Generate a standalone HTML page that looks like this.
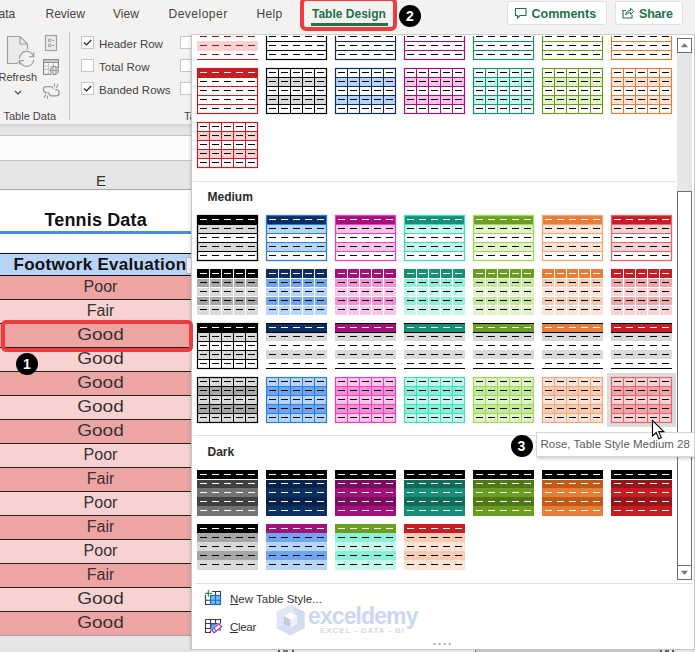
<!DOCTYPE html>
<html><head><meta charset="utf-8"><title>Table Design</title>
<style>
html,body{margin:0;padding:0}
body{width:695px;height:652px;position:relative;overflow:hidden;background:#f3f2f1;font-family:"Liberation Sans",sans-serif;color:#444}
.a{position:absolute}
.t{position:absolute;white-space:nowrap;line-height:1}
.tab{position:absolute;white-space:nowrap;line-height:1;font-size:12px;color:#444;top:7.5px}
.cb{position:absolute;width:11px;height:11px;background:#fff;border:1px solid #c8c6c4}
.rl{position:absolute;white-space:nowrap;line-height:1;font-size:11.5px;color:#444;left:99px}
.row{position:absolute;left:0;width:195px;height:23px;border-bottom:1px solid #222}
.ct{position:absolute;white-space:nowrap;line-height:1;font-size:16px;color:#333;width:201px;left:0;text-align:center}
.circ{position:absolute;width:22px;height:22px;border-radius:50%;background:#000;color:#fff;font-weight:bold;font-size:14px;text-align:center;line-height:22px}
.btn{position:absolute;top:1px;height:22px;background:#fff;border:1px solid #e1dfdd;border-radius:3px}
</style></head><body>

<!-- ===== ribbon tabs ===== -->
<div class="tab" style="left:-1.5px">ata</div>
<div class="tab" style="left:45.5px">Review</div>
<div class="tab" style="left:113px">View</div>
<div class="tab" style="left:168.5px;letter-spacing:.5px">Developer</div>
<div class="tab" style="left:256.5px;letter-spacing:.35px">Help</div>
<div class="tab" style="left:312px;color:#217346;font-weight:bold">Table Design</div>
<div class="a" style="left:311px;top:23px;width:77px;height:3px;background:#217346"></div>
<div class="a" style="left:300px;top:-3px;width:89px;height:26px;border:4px solid #ee3b3e;border-radius:6px"></div>
<div class="circ" style="left:399px;top:5px">2</div>

<div class="btn" style="left:507px;width:98px"></div>
<svg class="a" style="left:514px;top:6px" width="14" height="14" viewBox="0 0 14 14"><path d="M1.5 2.5h10.5v7h-6l-2.6 2.6v-2.6h-1.9z" fill="none" stroke="#217346" stroke-width="1.1" stroke-linejoin="round"/></svg>
<div class="t" style="left:531.5px;top:7.5px;font-size:12.5px;font-weight:bold;color:#217346">Comments</div>
<div class="btn" style="left:615px;width:66px"></div>
<svg class="a" style="left:621px;top:5px" width="14" height="15" viewBox="0 0 14 15"><path d="M5 5.5H2v7.5h9v-3.5" fill="none" stroke="#217346" stroke-width="1.1"/><path d="M4.5 10c.4-3 2.300-4.600 5-4.600V3.200L12.800 6.300 9.500 9.400V7.400C7.500 7.400 5.800 8 4.500 10z" fill="none" stroke="#217346" stroke-width="1" stroke-linejoin="round"/></svg>
<div class="t" style="left:639px;top:7.5px;font-size:12.5px;font-weight:bold;color:#217346;letter-spacing:-.2px">Share</div>

<!-- ===== ribbon body ===== -->
<svg class="a" style="left:0;top:30px" width="70" height="75" viewBox="0 30 70 75" fill="none" stroke="#a3a1a0" stroke-width="1.2">
 <path d="M18 63.500H7.500V36.500H20L27.500 44V49.500" fill="#ebebeb"/><path d="M20 36.500V44H27.500"/>
 <path d="M19.400 58.500A7.200 7.200 0 0 1 33.500 56.500M33.800 52V56.700H29.200M33.800 59.500A7.200 7.200 0 0 1 19.600 60.800M19.300 64.500V60.700H24"/>
 <rect x="45.500" y="35.500" width="11" height="15" fill="#ebebeb"/><path d="M48.500 39.200h2.300v2.300h-2.300zM48.500 44.200h2.300v2.300h-2.300zM52 40.400h2.400M52 45.400h2.400" stroke-width="1"/>
 <rect x="43.600" y="59.600" width="14.800" height="14.800" fill="#fafafa" stroke="none"/><path d="M43.600 60.200h14.800v2.200h-14.800z" fill="#cfcfcf" stroke="none"/>
 <path d="M48.500 62.500v11.500M53.500 62.500v4M43.600 66h10M43.600 69.500h6.500" stroke="#c6c6c6" stroke-width="1"/>
 <path d="M58.400 68V59.600H43.600V74.400H51M43.600 62.500H58.400" stroke="#8e8e8e"/>
 <circle cx="54.400" cy="70.500" r="4.100" fill="#e4e4e4" stroke="#9a9a9a"/><path d="M50.300 70.500h8.200" stroke="#9a9a9a" stroke-width="1"/><ellipse cx="54.400" cy="70.500" rx="1.800" ry="4.100" stroke="#9a9a9a" stroke-width=".9"/>
 <path d="M53.200 88.600C53 87.200 52.200 86.600 50.800 86.600H46.300A3 3 0 0 0 46.300 92.600H47.600M55.300 89.600H56A3.100 3.100 0 0 1 56 95.800H51.600A3.100 3.100 0 0 1 48.700 92.400" stroke="#9a9a9a" stroke-width="1.300"/>
 <path d="M54.300 83.100L54.600 87M58.100 84.100L56.400 87.700M45.700 94.300L44.100 97.700M47.400 95.400V98.900" stroke="#9a9a9a" stroke-width="1.100"/>
</svg>
<div class="t" style="left:-1.5px;top:72px;font-size:11px;color:#444">Refresh</div>
<svg class="a" style="left:14px;top:90px" width="8" height="5" viewBox="0 0 8 5"><path d="M1 1l3 3 3-3" fill="none" stroke="#444" stroke-width="1.1"/></svg>
<div class="t" style="left:3.5px;top:110.5px;font-size:11px;color:#444">Table Data</div>
<div class="a" style="left:69px;top:32px;width:1px;height:88px;background:#c8c6c4"></div>

<div class="cb" style="left:81px;top:36px"></div>
<div class="cb" style="left:81px;top:59px"></div>
<div class="cb" style="left:81px;top:82px"></div>
<svg class="a" style="left:81px;top:36px" width="13" height="13" viewBox="0 0 13 13"><path d="M3 6.500l2.500 2.500 4.700-5" fill="none" stroke="#222" stroke-width="1.2"/></svg>
<svg class="a" style="left:81px;top:82px" width="13" height="13" viewBox="0 0 13 13"><path d="M3 6.500l2.500 2.500 4.700-5" fill="none" stroke="#222" stroke-width="1.2"/></svg>
<div class="rl" style="top:38.5px">Header Row</div>
<div class="rl" style="top:61.5px">Total Row</div>
<div class="rl" style="top:84.5px">Banded Rows</div>
<div class="cb" style="left:180px;top:36px"></div>
<div class="cb" style="left:180px;top:59px"></div>
<div class="cb" style="left:180px;top:82px"></div>
<div class="t" style="left:184px;top:110.5px;font-size:11px;color:#444">Ta</div>

<!-- ===== below ribbon ===== -->
<div class="a" style="left:0;top:124px;width:695px;height:5px;background:linear-gradient(#d4d2d0,#e6e6e6)"></div>
<div class="a" style="left:0;top:129px;width:695px;height:523px;background:#e6e6e6"></div>
<div class="a" style="left:0;top:135px;width:695px;height:24px;background:#fbfbfb;border-top:1px solid #c6c6c6;border-bottom:1px solid #c6c6c6"></div>
<div class="t" style="left:96px;top:172.5px;font-size:15px;color:#333">E</div>
<div class="a" style="left:0;top:189px;width:695px;height:1px;background:#a6a6a6"></div>

<!-- cells -->
<div class="a" style="left:0;top:190px;width:195px;height:85px;background:#fff"></div>
<div class="t" style="left:44.500px;top:210.500px;font-size:18px;font-weight:bold;color:#111;letter-spacing:.15px">Tennis Data</div>
<div class="a" style="left:0;top:231px;width:195px;height:3px;background:#4a8ce2"></div>
<div class="a" style="left:0;top:253px;width:195px;height:21px;background:#b8d5f8;border-top:1px solid #111;border-bottom:1px solid #111"></div>
<div class="t" style="left:13.500px;top:256px;font-size:17px;font-weight:bold;color:#111;letter-spacing:.3px">Footwork Evaluation</div>
<div class="a" style="left:186px;top:257px;width:8px;height:15px;background:#f4f4f4;border:1px solid #b5b5b5"></div>
<div class="row" style="top:276px;background:#efa4a4"></div><div class="ct" style="top:279px;">Poor</div><div class="row" style="top:300px;background:#f8d1d1"></div><div class="ct" style="top:303px;">Fair</div><div class="row" style="top:324px;background:#efa4a4"></div><div class="ct" style="top:327px;transform:scaleX(1.19);transform-origin:100.75px 0;">Good</div><div class="row" style="top:348px;background:#f8d1d1"></div><div class="ct" style="top:351px;transform:scaleX(1.19);transform-origin:100.75px 0;">Good</div><div class="row" style="top:372px;background:#efa4a4"></div><div class="ct" style="top:375px;transform:scaleX(1.19);transform-origin:100.75px 0;">Good</div><div class="row" style="top:396px;background:#f8d1d1"></div><div class="ct" style="top:399px;transform:scaleX(1.19);transform-origin:100.75px 0;">Good</div><div class="row" style="top:420px;background:#efa4a4"></div><div class="ct" style="top:423px;transform:scaleX(1.19);transform-origin:100.75px 0;">Good</div><div class="row" style="top:444px;background:#f8d1d1"></div><div class="ct" style="top:447px;">Poor</div><div class="row" style="top:468px;background:#efa4a4"></div><div class="ct" style="top:471px;">Fair</div><div class="row" style="top:492px;background:#f8d1d1"></div><div class="ct" style="top:495px;">Poor</div><div class="row" style="top:516px;background:#efa4a4"></div><div class="ct" style="top:519px;">Fair</div><div class="row" style="top:540px;background:#f8d1d1"></div><div class="ct" style="top:543px;">Poor</div><div class="row" style="top:564px;background:#efa4a4"></div><div class="ct" style="top:567px;">Fair</div><div class="row" style="top:588px;background:#f8d1d1"></div><div class="ct" style="top:591px;transform:scaleX(1.19);transform-origin:100.75px 0;">Good</div><div class="row" style="top:612px;background:#efa4a4;border-bottom-color:#a0a0a0"></div><div class="ct" style="top:615px;transform:scaleX(1.19);transform-origin:100.75px 0;">Good</div>

<div class="circ" style="left:16px;top:353px">1</div>

<div class="a" style="left:0;top:649px;width:695px;height:3px;background:#e4e4e4"></div>
<div class="a" style="left:475px;top:649px;width:185px;height:3px;background:#c4c4c4;border-left:1px solid #666"></div>
<div class="a" style="left:278px;top:650px;width:1.500px;height:2px;background:#555"></div><div class="a" style="left:283px;top:650px;width:5px;height:2px;background:#777"></div><div class="a" style="left:292px;top:650px;width:1.500px;height:2px;background:#555"></div>
<div class="a" style="left:660px;top:650px;width:1.500px;height:2px;background:#555"></div><div class="a" style="left:665px;top:650px;width:4px;height:2px;background:#666"></div><div class="a" style="left:672px;top:650px;width:1.500px;height:2px;background:#555"></div>

<!-- ===== dropdown panel ===== -->
<div class="a" style="left:188px;top:35px;width:507px;height:615px;background:linear-gradient(90deg,rgba(0,0,0,0),rgba(0,0,0,.10) 3px,rgba(0,0,0,0) 3px)"></div>
<div class="a" style="left:191px;top:34px;width:502px;height:614px;background:#fff;border:1px solid #c6c6c6;border-top-color:#d0d0d0"></div>
<svg class="a" style="left:191px;top:36px" width="503" height="612" viewBox="0 2 503 612"><g transform="translate(6 -20)"><g shape-rendering="auto"><rect x="0" y="9" width="61" height="10" fill="#f8d2d3"/><rect x="0" y="27" width="61" height="10" fill="#f8d2d3"/><path d="M3 4.5H58" stroke="#8f181c" stroke-width="1.15" stroke-dasharray="7 5"/><path d="M3 13.5H58" stroke="#8f181c" stroke-width="1.15" stroke-dasharray="7 5"/><path d="M3 22.5H58" stroke="#8f181c" stroke-width="1.15" stroke-dasharray="7 5"/><path d="M3 31.5H58" stroke="#8f181c" stroke-width="1.15" stroke-dasharray="7 5"/><path d="M3 40.5H58" stroke="#8f181c" stroke-width="1.15" stroke-dasharray="7 5"/><path d="M0 0.5H61" stroke="#c61c22" stroke-width="1"/><path d="M0 9.5H61" stroke="#c61c22" stroke-width="1"/><path d="M0 45.5H61" stroke="#c61c22" stroke-width="1.2"/></g></g><g transform="translate(75 -20)"><g shape-rendering="auto"><rect x="0" y="0" width="61" height="46" fill="#fff"/><rect x="0" y="0" width="61" height="9" fill="#000000"/><path d="M0 9.5H61" stroke="#000000" stroke-width="1"/><path d="M0 18.5H61" stroke="#000000" stroke-width="1"/><path d="M0 27.5H61" stroke="#000000" stroke-width="1"/><path d="M0 36.5H61" stroke="#000000" stroke-width="1"/><rect x="0.5" y="0.5" width="60" height="45" fill="none" stroke="#000000" stroke-width="1.2"/><path d="M3 4.5H58" stroke="#fff" stroke-width="1.15" stroke-dasharray="7 5"/><path d="M3 13.5H58" stroke="#000" stroke-width="1.15" stroke-dasharray="7 5"/><path d="M3 22.5H58" stroke="#000" stroke-width="1.15" stroke-dasharray="7 5"/><path d="M3 31.5H58" stroke="#000" stroke-width="1.15" stroke-dasharray="7 5"/><path d="M3 40.5H58" stroke="#000" stroke-width="1.15" stroke-dasharray="7 5"/></g></g><g transform="translate(144 -20)"><g shape-rendering="auto"><rect x="0" y="0" width="61" height="46" fill="#fff"/><rect x="0" y="0" width="61" height="9" fill="#0b2d62"/><path d="M0 9.5H61" stroke="#0b2d62" stroke-width="1"/><path d="M0 18.5H61" stroke="#0b2d62" stroke-width="1"/><path d="M0 27.5H61" stroke="#0b2d62" stroke-width="1"/><path d="M0 36.5H61" stroke="#0b2d62" stroke-width="1"/><rect x="0.5" y="0.5" width="60" height="45" fill="none" stroke="#0b2d62" stroke-width="1.2"/><path d="M3 4.5H58" stroke="#fff" stroke-width="1.15" stroke-dasharray="7 5"/><path d="M3 13.5H58" stroke="#000" stroke-width="1.15" stroke-dasharray="7 5"/><path d="M3 22.5H58" stroke="#000" stroke-width="1.15" stroke-dasharray="7 5"/><path d="M3 31.5H58" stroke="#000" stroke-width="1.15" stroke-dasharray="7 5"/><path d="M3 40.5H58" stroke="#000" stroke-width="1.15" stroke-dasharray="7 5"/></g></g><g transform="translate(213 -20)"><g shape-rendering="auto"><rect x="0" y="0" width="61" height="46" fill="#fff"/><rect x="0" y="0" width="61" height="9" fill="#a3107c"/><path d="M0 9.5H61" stroke="#a3107c" stroke-width="1"/><path d="M0 18.5H61" stroke="#a3107c" stroke-width="1"/><path d="M0 27.5H61" stroke="#a3107c" stroke-width="1"/><path d="M0 36.5H61" stroke="#a3107c" stroke-width="1"/><rect x="0.5" y="0.5" width="60" height="45" fill="none" stroke="#a3107c" stroke-width="1.2"/><path d="M3 4.5H58" stroke="#fff" stroke-width="1.15" stroke-dasharray="7 5"/><path d="M3 13.5H58" stroke="#000" stroke-width="1.15" stroke-dasharray="7 5"/><path d="M3 22.5H58" stroke="#000" stroke-width="1.15" stroke-dasharray="7 5"/><path d="M3 31.5H58" stroke="#000" stroke-width="1.15" stroke-dasharray="7 5"/><path d="M3 40.5H58" stroke="#000" stroke-width="1.15" stroke-dasharray="7 5"/></g></g><g transform="translate(282 -20)"><g shape-rendering="auto"><rect x="0" y="0" width="61" height="46" fill="#fff"/><rect x="0" y="0" width="61" height="9" fill="#168f77"/><path d="M0 9.5H61" stroke="#168f77" stroke-width="1"/><path d="M0 18.5H61" stroke="#168f77" stroke-width="1"/><path d="M0 27.5H61" stroke="#168f77" stroke-width="1"/><path d="M0 36.5H61" stroke="#168f77" stroke-width="1"/><rect x="0.5" y="0.5" width="60" height="45" fill="none" stroke="#168f77" stroke-width="1.2"/><path d="M3 4.5H58" stroke="#fff" stroke-width="1.15" stroke-dasharray="7 5"/><path d="M3 13.5H58" stroke="#000" stroke-width="1.15" stroke-dasharray="7 5"/><path d="M3 22.5H58" stroke="#000" stroke-width="1.15" stroke-dasharray="7 5"/><path d="M3 31.5H58" stroke="#000" stroke-width="1.15" stroke-dasharray="7 5"/><path d="M3 40.5H58" stroke="#000" stroke-width="1.15" stroke-dasharray="7 5"/></g></g><g transform="translate(351 -20)"><g shape-rendering="auto"><rect x="0" y="0" width="61" height="46" fill="#fff"/><rect x="0" y="0" width="61" height="9" fill="#6a9e1f"/><path d="M0 9.5H61" stroke="#6a9e1f" stroke-width="1"/><path d="M0 18.5H61" stroke="#6a9e1f" stroke-width="1"/><path d="M0 27.5H61" stroke="#6a9e1f" stroke-width="1"/><path d="M0 36.5H61" stroke="#6a9e1f" stroke-width="1"/><rect x="0.5" y="0.5" width="60" height="45" fill="none" stroke="#6a9e1f" stroke-width="1.2"/><path d="M3 4.5H58" stroke="#fff" stroke-width="1.15" stroke-dasharray="7 5"/><path d="M3 13.5H58" stroke="#000" stroke-width="1.15" stroke-dasharray="7 5"/><path d="M3 22.5H58" stroke="#000" stroke-width="1.15" stroke-dasharray="7 5"/><path d="M3 31.5H58" stroke="#000" stroke-width="1.15" stroke-dasharray="7 5"/><path d="M3 40.5H58" stroke="#000" stroke-width="1.15" stroke-dasharray="7 5"/></g></g><g transform="translate(420 -20)"><g shape-rendering="auto"><rect x="0" y="0" width="61" height="46" fill="#fff"/><rect x="0" y="0" width="61" height="9" fill="#e87d37"/><path d="M0 9.5H61" stroke="#e87d37" stroke-width="1"/><path d="M0 18.5H61" stroke="#e87d37" stroke-width="1"/><path d="M0 27.5H61" stroke="#e87d37" stroke-width="1"/><path d="M0 36.5H61" stroke="#e87d37" stroke-width="1"/><rect x="0.5" y="0.5" width="60" height="45" fill="none" stroke="#e87d37" stroke-width="1.2"/><path d="M3 4.5H58" stroke="#fff" stroke-width="1.15" stroke-dasharray="7 5"/><path d="M3 13.5H58" stroke="#000" stroke-width="1.15" stroke-dasharray="7 5"/><path d="M3 22.5H58" stroke="#000" stroke-width="1.15" stroke-dasharray="7 5"/><path d="M3 31.5H58" stroke="#000" stroke-width="1.15" stroke-dasharray="7 5"/><path d="M3 40.5H58" stroke="#000" stroke-width="1.15" stroke-dasharray="7 5"/></g></g><g transform="translate(6 34)"><g shape-rendering="auto"><rect x="0" y="0" width="61" height="46" fill="#fff"/><rect x="0" y="0" width="61" height="9" fill="#c61c22"/><path d="M0 9.5H61" stroke="#c61c22" stroke-width="1"/><path d="M0 18.5H61" stroke="#c61c22" stroke-width="1"/><path d="M0 27.5H61" stroke="#c61c22" stroke-width="1"/><path d="M0 36.5H61" stroke="#c61c22" stroke-width="1"/><rect x="0.5" y="0.5" width="60" height="45" fill="none" stroke="#c61c22" stroke-width="1.2"/><path d="M3 4.5H58" stroke="#fff" stroke-width="1.15" stroke-dasharray="7 5"/><path d="M3 13.5H58" stroke="#000" stroke-width="1.15" stroke-dasharray="7 5"/><path d="M3 22.5H58" stroke="#000" stroke-width="1.15" stroke-dasharray="7 5"/><path d="M3 31.5H58" stroke="#000" stroke-width="1.15" stroke-dasharray="7 5"/><path d="M3 40.5H58" stroke="#000" stroke-width="1.15" stroke-dasharray="7 5"/></g></g><g transform="translate(75 34)"><g shape-rendering="auto"><rect x="0" y="0" width="61" height="46" fill="#fff"/><rect x="0" y="9" width="61" height="9" fill="#d9d9d9"/><rect x="0" y="27" width="61" height="9" fill="#d9d9d9"/><path d="M0 9.5H61" stroke="#000000" stroke-width="1"/><path d="M0 18.5H61" stroke="#000000" stroke-width="1"/><path d="M0 27.5H61" stroke="#000000" stroke-width="1"/><path d="M0 36.5H61" stroke="#000000" stroke-width="1"/><path d="M12.5 0V46" stroke="#000000" stroke-width="1"/><path d="M24.5 0V46" stroke="#000000" stroke-width="1"/><path d="M36.5 0V46" stroke="#000000" stroke-width="1"/><path d="M48.5 0V46" stroke="#000000" stroke-width="1"/><rect x="0.5" y="0.5" width="60" height="45" fill="none" stroke="#000000" stroke-width="1.2"/><path d="M3 4.5H58" stroke="#000" stroke-width="1.15" stroke-dasharray="7 5"/><path d="M3 13.5H58" stroke="#000" stroke-width="1.15" stroke-dasharray="7 5"/><path d="M3 22.5H58" stroke="#000" stroke-width="1.15" stroke-dasharray="7 5"/><path d="M3 31.5H58" stroke="#000" stroke-width="1.15" stroke-dasharray="7 5"/><path d="M3 40.5H58" stroke="#000" stroke-width="1.15" stroke-dasharray="7 5"/></g></g><g transform="translate(144 34)"><g shape-rendering="auto"><rect x="0" y="0" width="61" height="46" fill="#fff"/><rect x="0" y="9" width="61" height="9" fill="#b7d5fa"/><rect x="0" y="27" width="61" height="9" fill="#b7d5fa"/><path d="M0 9.5H61" stroke="#0b2d62" stroke-width="1"/><path d="M0 18.5H61" stroke="#0b2d62" stroke-width="1"/><path d="M0 27.5H61" stroke="#0b2d62" stroke-width="1"/><path d="M0 36.5H61" stroke="#0b2d62" stroke-width="1"/><path d="M12.5 0V46" stroke="#0b2d62" stroke-width="1"/><path d="M24.5 0V46" stroke="#0b2d62" stroke-width="1"/><path d="M36.5 0V46" stroke="#0b2d62" stroke-width="1"/><path d="M48.5 0V46" stroke="#0b2d62" stroke-width="1"/><rect x="0.5" y="0.5" width="60" height="45" fill="none" stroke="#0b2d62" stroke-width="1.2"/><path d="M3 4.5H58" stroke="#000" stroke-width="1.15" stroke-dasharray="7 5"/><path d="M3 13.5H58" stroke="#000" stroke-width="1.15" stroke-dasharray="7 5"/><path d="M3 22.5H58" stroke="#000" stroke-width="1.15" stroke-dasharray="7 5"/><path d="M3 31.5H58" stroke="#000" stroke-width="1.15" stroke-dasharray="7 5"/><path d="M3 40.5H58" stroke="#000" stroke-width="1.15" stroke-dasharray="7 5"/></g></g><g transform="translate(213 34)"><g shape-rendering="auto"><rect x="0" y="0" width="61" height="46" fill="#fff"/><rect x="0" y="9" width="61" height="9" fill="#fbc5ea"/><rect x="0" y="27" width="61" height="9" fill="#fbc5ea"/><path d="M0 9.5H61" stroke="#a3107c" stroke-width="1"/><path d="M0 18.5H61" stroke="#a3107c" stroke-width="1"/><path d="M0 27.5H61" stroke="#a3107c" stroke-width="1"/><path d="M0 36.5H61" stroke="#a3107c" stroke-width="1"/><path d="M12.5 0V46" stroke="#a3107c" stroke-width="1"/><path d="M24.5 0V46" stroke="#a3107c" stroke-width="1"/><path d="M36.5 0V46" stroke="#a3107c" stroke-width="1"/><path d="M48.5 0V46" stroke="#a3107c" stroke-width="1"/><rect x="0.5" y="0.5" width="60" height="45" fill="none" stroke="#a3107c" stroke-width="1.2"/><path d="M3 4.5H58" stroke="#000" stroke-width="1.15" stroke-dasharray="7 5"/><path d="M3 13.5H58" stroke="#000" stroke-width="1.15" stroke-dasharray="7 5"/><path d="M3 22.5H58" stroke="#000" stroke-width="1.15" stroke-dasharray="7 5"/><path d="M3 31.5H58" stroke="#000" stroke-width="1.15" stroke-dasharray="7 5"/><path d="M3 40.5H58" stroke="#000" stroke-width="1.15" stroke-dasharray="7 5"/></g></g><g transform="translate(282 34)"><g shape-rendering="auto"><rect x="0" y="0" width="61" height="46" fill="#fff"/><rect x="0" y="9" width="61" height="9" fill="#c5f7ec"/><rect x="0" y="27" width="61" height="9" fill="#c5f7ec"/><path d="M0 9.5H61" stroke="#168f77" stroke-width="1"/><path d="M0 18.5H61" stroke="#168f77" stroke-width="1"/><path d="M0 27.5H61" stroke="#168f77" stroke-width="1"/><path d="M0 36.5H61" stroke="#168f77" stroke-width="1"/><path d="M12.5 0V46" stroke="#168f77" stroke-width="1"/><path d="M24.5 0V46" stroke="#168f77" stroke-width="1"/><path d="M36.5 0V46" stroke="#168f77" stroke-width="1"/><path d="M48.5 0V46" stroke="#168f77" stroke-width="1"/><rect x="0.5" y="0.5" width="60" height="45" fill="none" stroke="#168f77" stroke-width="1.2"/><path d="M3 4.5H58" stroke="#000" stroke-width="1.15" stroke-dasharray="7 5"/><path d="M3 13.5H58" stroke="#000" stroke-width="1.15" stroke-dasharray="7 5"/><path d="M3 22.5H58" stroke="#000" stroke-width="1.15" stroke-dasharray="7 5"/><path d="M3 31.5H58" stroke="#000" stroke-width="1.15" stroke-dasharray="7 5"/><path d="M3 40.5H58" stroke="#000" stroke-width="1.15" stroke-dasharray="7 5"/></g></g><g transform="translate(351 34)"><g shape-rendering="auto"><rect x="0" y="0" width="61" height="46" fill="#fff"/><rect x="0" y="9" width="61" height="9" fill="#e1f4c9"/><rect x="0" y="27" width="61" height="9" fill="#e1f4c9"/><path d="M0 9.5H61" stroke="#6a9e1f" stroke-width="1"/><path d="M0 18.5H61" stroke="#6a9e1f" stroke-width="1"/><path d="M0 27.5H61" stroke="#6a9e1f" stroke-width="1"/><path d="M0 36.5H61" stroke="#6a9e1f" stroke-width="1"/><path d="M12.5 0V46" stroke="#6a9e1f" stroke-width="1"/><path d="M24.5 0V46" stroke="#6a9e1f" stroke-width="1"/><path d="M36.5 0V46" stroke="#6a9e1f" stroke-width="1"/><path d="M48.5 0V46" stroke="#6a9e1f" stroke-width="1"/><rect x="0.5" y="0.5" width="60" height="45" fill="none" stroke="#6a9e1f" stroke-width="1.2"/><path d="M3 4.5H58" stroke="#000" stroke-width="1.15" stroke-dasharray="7 5"/><path d="M3 13.5H58" stroke="#000" stroke-width="1.15" stroke-dasharray="7 5"/><path d="M3 22.5H58" stroke="#000" stroke-width="1.15" stroke-dasharray="7 5"/><path d="M3 31.5H58" stroke="#000" stroke-width="1.15" stroke-dasharray="7 5"/><path d="M3 40.5H58" stroke="#000" stroke-width="1.15" stroke-dasharray="7 5"/></g></g><g transform="translate(420 34)"><g shape-rendering="auto"><rect x="0" y="0" width="61" height="46" fill="#fff"/><rect x="0" y="9" width="61" height="9" fill="#fbe4d5"/><rect x="0" y="27" width="61" height="9" fill="#fbe4d5"/><path d="M0 9.5H61" stroke="#e87d37" stroke-width="1"/><path d="M0 18.5H61" stroke="#e87d37" stroke-width="1"/><path d="M0 27.5H61" stroke="#e87d37" stroke-width="1"/><path d="M0 36.5H61" stroke="#e87d37" stroke-width="1"/><path d="M12.5 0V46" stroke="#e87d37" stroke-width="1"/><path d="M24.5 0V46" stroke="#e87d37" stroke-width="1"/><path d="M36.5 0V46" stroke="#e87d37" stroke-width="1"/><path d="M48.5 0V46" stroke="#e87d37" stroke-width="1"/><rect x="0.5" y="0.5" width="60" height="45" fill="none" stroke="#e87d37" stroke-width="1.2"/><path d="M3 4.5H58" stroke="#000" stroke-width="1.15" stroke-dasharray="7 5"/><path d="M3 13.5H58" stroke="#000" stroke-width="1.15" stroke-dasharray="7 5"/><path d="M3 22.5H58" stroke="#000" stroke-width="1.15" stroke-dasharray="7 5"/><path d="M3 31.5H58" stroke="#000" stroke-width="1.15" stroke-dasharray="7 5"/><path d="M3 40.5H58" stroke="#000" stroke-width="1.15" stroke-dasharray="7 5"/></g></g><g transform="translate(6 88)"><g shape-rendering="auto"><rect x="0" y="0" width="61" height="46" fill="#fff"/><rect x="0" y="9" width="61" height="9" fill="#f8d2d3"/><rect x="0" y="27" width="61" height="9" fill="#f8d2d3"/><path d="M0 9.5H61" stroke="#c61c22" stroke-width="1"/><path d="M0 18.5H61" stroke="#c61c22" stroke-width="1"/><path d="M0 27.5H61" stroke="#c61c22" stroke-width="1"/><path d="M0 36.5H61" stroke="#c61c22" stroke-width="1"/><path d="M12.5 0V46" stroke="#c61c22" stroke-width="1"/><path d="M24.5 0V46" stroke="#c61c22" stroke-width="1"/><path d="M36.5 0V46" stroke="#c61c22" stroke-width="1"/><path d="M48.5 0V46" stroke="#c61c22" stroke-width="1"/><rect x="0.5" y="0.5" width="60" height="45" fill="none" stroke="#c61c22" stroke-width="1.2"/><path d="M3 4.5H58" stroke="#000" stroke-width="1.15" stroke-dasharray="7 5"/><path d="M3 13.5H58" stroke="#000" stroke-width="1.15" stroke-dasharray="7 5"/><path d="M3 22.5H58" stroke="#000" stroke-width="1.15" stroke-dasharray="7 5"/><path d="M3 31.5H58" stroke="#000" stroke-width="1.15" stroke-dasharray="7 5"/><path d="M3 40.5H58" stroke="#000" stroke-width="1.15" stroke-dasharray="7 5"/></g></g><rect x="416" y="339" width="69" height="54" fill="#dcdcda"/><g transform="translate(6 181)"><g shape-rendering="auto"><rect x="0" y="0" width="61" height="46" fill="#fff"/><rect x="0" y="0" width="61" height="9" fill="#000000"/><rect x="0" y="9" width="61" height="9" fill="#d9d9d9"/><rect x="0" y="27" width="61" height="9" fill="#d9d9d9"/><path d="M0 9.5H61" stroke="#000000" stroke-width="1"/><path d="M0 18.5H61" stroke="#000000" stroke-width="1"/><path d="M0 27.5H61" stroke="#000000" stroke-width="1"/><path d="M0 36.5H61" stroke="#000000" stroke-width="1"/><rect x="0.5" y="0.5" width="60" height="45" fill="none" stroke="#000000" stroke-width="1.3"/><path d="M3 4.5H58" stroke="#fff" stroke-width="1.15" stroke-dasharray="7 5"/><path d="M3 13.5H58" stroke="#000" stroke-width="1.15" stroke-dasharray="7 5"/><path d="M3 22.5H58" stroke="#000" stroke-width="1.15" stroke-dasharray="7 5"/><path d="M3 31.5H58" stroke="#000" stroke-width="1.15" stroke-dasharray="7 5"/><path d="M3 40.5H58" stroke="#000" stroke-width="1.15" stroke-dasharray="7 5"/></g></g><g transform="translate(75 181)"><g shape-rendering="auto"><rect x="0" y="0" width="61" height="46" fill="#fff"/><rect x="0" y="0" width="61" height="9" fill="#0b2d62"/><rect x="0" y="9" width="61" height="9" fill="#b7d5fa"/><rect x="0" y="27" width="61" height="9" fill="#b7d5fa"/><path d="M0 9.5H61" stroke="#2b7de9" stroke-width="1"/><path d="M0 18.5H61" stroke="#2b7de9" stroke-width="1"/><path d="M0 27.5H61" stroke="#2b7de9" stroke-width="1"/><path d="M0 36.5H61" stroke="#2b7de9" stroke-width="1"/><rect x="0.5" y="0.5" width="60" height="45" fill="none" stroke="#2b7de9" stroke-width="1.3"/><path d="M3 4.5H58" stroke="#fff" stroke-width="1.15" stroke-dasharray="7 5"/><path d="M3 13.5H58" stroke="#000" stroke-width="1.15" stroke-dasharray="7 5"/><path d="M3 22.5H58" stroke="#000" stroke-width="1.15" stroke-dasharray="7 5"/><path d="M3 31.5H58" stroke="#000" stroke-width="1.15" stroke-dasharray="7 5"/><path d="M3 40.5H58" stroke="#000" stroke-width="1.15" stroke-dasharray="7 5"/></g></g><g transform="translate(144 181)"><g shape-rendering="auto"><rect x="0" y="0" width="61" height="46" fill="#fff"/><rect x="0" y="0" width="61" height="9" fill="#a3107c"/><rect x="0" y="9" width="61" height="9" fill="#fbc5ea"/><rect x="0" y="27" width="61" height="9" fill="#fbc5ea"/><path d="M0 9.5H61" stroke="#ec44c0" stroke-width="1"/><path d="M0 18.5H61" stroke="#ec44c0" stroke-width="1"/><path d="M0 27.5H61" stroke="#ec44c0" stroke-width="1"/><path d="M0 36.5H61" stroke="#ec44c0" stroke-width="1"/><rect x="0.5" y="0.5" width="60" height="45" fill="none" stroke="#ec44c0" stroke-width="1.3"/><path d="M3 4.5H58" stroke="#fff" stroke-width="1.15" stroke-dasharray="7 5"/><path d="M3 13.5H58" stroke="#000" stroke-width="1.15" stroke-dasharray="7 5"/><path d="M3 22.5H58" stroke="#000" stroke-width="1.15" stroke-dasharray="7 5"/><path d="M3 31.5H58" stroke="#000" stroke-width="1.15" stroke-dasharray="7 5"/><path d="M3 40.5H58" stroke="#000" stroke-width="1.15" stroke-dasharray="7 5"/></g></g><g transform="translate(213 181)"><g shape-rendering="auto"><rect x="0" y="0" width="61" height="46" fill="#fff"/><rect x="0" y="0" width="61" height="9" fill="#168f77"/><rect x="0" y="9" width="61" height="9" fill="#c5f7ec"/><rect x="0" y="27" width="61" height="9" fill="#c5f7ec"/><path d="M0 9.5H61" stroke="#3fe0c1" stroke-width="1"/><path d="M0 18.5H61" stroke="#3fe0c1" stroke-width="1"/><path d="M0 27.5H61" stroke="#3fe0c1" stroke-width="1"/><path d="M0 36.5H61" stroke="#3fe0c1" stroke-width="1"/><rect x="0.5" y="0.5" width="60" height="45" fill="none" stroke="#3fe0c1" stroke-width="1.3"/><path d="M3 4.5H58" stroke="#fff" stroke-width="1.15" stroke-dasharray="7 5"/><path d="M3 13.5H58" stroke="#000" stroke-width="1.15" stroke-dasharray="7 5"/><path d="M3 22.5H58" stroke="#000" stroke-width="1.15" stroke-dasharray="7 5"/><path d="M3 31.5H58" stroke="#000" stroke-width="1.15" stroke-dasharray="7 5"/><path d="M3 40.5H58" stroke="#000" stroke-width="1.15" stroke-dasharray="7 5"/></g></g><g transform="translate(282 181)"><g shape-rendering="auto"><rect x="0" y="0" width="61" height="46" fill="#fff"/><rect x="0" y="0" width="61" height="9" fill="#6a9e1f"/><rect x="0" y="9" width="61" height="9" fill="#e1f4c9"/><rect x="0" y="27" width="61" height="9" fill="#e1f4c9"/><path d="M0 9.5H61" stroke="#a0d959" stroke-width="1"/><path d="M0 18.5H61" stroke="#a0d959" stroke-width="1"/><path d="M0 27.5H61" stroke="#a0d959" stroke-width="1"/><path d="M0 36.5H61" stroke="#a0d959" stroke-width="1"/><rect x="0.5" y="0.5" width="60" height="45" fill="none" stroke="#a0d959" stroke-width="1.3"/><path d="M3 4.5H58" stroke="#fff" stroke-width="1.15" stroke-dasharray="7 5"/><path d="M3 13.5H58" stroke="#000" stroke-width="1.15" stroke-dasharray="7 5"/><path d="M3 22.5H58" stroke="#000" stroke-width="1.15" stroke-dasharray="7 5"/><path d="M3 31.5H58" stroke="#000" stroke-width="1.15" stroke-dasharray="7 5"/><path d="M3 40.5H58" stroke="#000" stroke-width="1.15" stroke-dasharray="7 5"/></g></g><g transform="translate(351 181)"><g shape-rendering="auto"><rect x="0" y="0" width="61" height="46" fill="#fff"/><rect x="0" y="0" width="61" height="9" fill="#e87d37"/><rect x="0" y="9" width="61" height="9" fill="#fbe4d5"/><rect x="0" y="27" width="61" height="9" fill="#fbe4d5"/><path d="M0 9.5H61" stroke="#f2a77c" stroke-width="1"/><path d="M0 18.5H61" stroke="#f2a77c" stroke-width="1"/><path d="M0 27.5H61" stroke="#f2a77c" stroke-width="1"/><path d="M0 36.5H61" stroke="#f2a77c" stroke-width="1"/><rect x="0.5" y="0.5" width="60" height="45" fill="none" stroke="#f2a77c" stroke-width="1.3"/><path d="M3 4.5H58" stroke="#fff" stroke-width="1.15" stroke-dasharray="7 5"/><path d="M3 13.5H58" stroke="#000" stroke-width="1.15" stroke-dasharray="7 5"/><path d="M3 22.5H58" stroke="#000" stroke-width="1.15" stroke-dasharray="7 5"/><path d="M3 31.5H58" stroke="#000" stroke-width="1.15" stroke-dasharray="7 5"/><path d="M3 40.5H58" stroke="#000" stroke-width="1.15" stroke-dasharray="7 5"/></g></g><g transform="translate(420 181)"><g shape-rendering="auto"><rect x="0" y="0" width="61" height="46" fill="#fff"/><rect x="0" y="0" width="61" height="9" fill="#c61c22"/><rect x="0" y="9" width="61" height="9" fill="#f8d2d3"/><rect x="0" y="27" width="61" height="9" fill="#f8d2d3"/><path d="M0 9.5H61" stroke="#e8656b" stroke-width="1"/><path d="M0 18.5H61" stroke="#e8656b" stroke-width="1"/><path d="M0 27.5H61" stroke="#e8656b" stroke-width="1"/><path d="M0 36.5H61" stroke="#e8656b" stroke-width="1"/><rect x="0.5" y="0.5" width="60" height="45" fill="none" stroke="#e8656b" stroke-width="1.3"/><path d="M3 4.5H58" stroke="#fff" stroke-width="1.15" stroke-dasharray="7 5"/><path d="M3 13.5H58" stroke="#000" stroke-width="1.15" stroke-dasharray="7 5"/><path d="M3 22.5H58" stroke="#000" stroke-width="1.15" stroke-dasharray="7 5"/><path d="M3 31.5H58" stroke="#000" stroke-width="1.15" stroke-dasharray="7 5"/><path d="M3 40.5H58" stroke="#000" stroke-width="1.15" stroke-dasharray="7 5"/></g></g><g transform="translate(6 235)"><g shape-rendering="auto"><rect x="0" y="0" width="61" height="9" fill="#000000"/><rect x="0" y="9" width="61" height="9" fill="#a6a6a6"/><rect x="0" y="18" width="61" height="9" fill="#d9d9d9"/><rect x="0" y="27" width="61" height="9" fill="#a6a6a6"/><rect x="0" y="36" width="61" height="10" fill="#d9d9d9"/><path d="M0 9.5H61" stroke="#fff" stroke-width="1.1"/><path d="M0 18.5H61" stroke="#fff" stroke-width="1.1"/><path d="M0 27.5H61" stroke="#fff" stroke-width="1.1"/><path d="M0 36.5H61" stroke="#fff" stroke-width="1.1"/><path d="M12.5 0V46" stroke="#fff" stroke-width="1.1"/><path d="M24.5 0V46" stroke="#fff" stroke-width="1.1"/><path d="M36.5 0V46" stroke="#fff" stroke-width="1.1"/><path d="M48.5 0V46" stroke="#fff" stroke-width="1.1"/><path d="M3 4.5H58" stroke="#fff" stroke-width="1.15" stroke-dasharray="7 5"/><path d="M3 13.5H58" stroke="#000" stroke-width="1.15" stroke-dasharray="7 5"/><path d="M3 22.5H58" stroke="#000" stroke-width="1.15" stroke-dasharray="7 5"/><path d="M3 31.5H58" stroke="#000" stroke-width="1.15" stroke-dasharray="7 5"/><path d="M3 40.5H58" stroke="#000" stroke-width="1.15" stroke-dasharray="7 5"/></g></g><g transform="translate(75 235)"><g shape-rendering="auto"><rect x="0" y="0" width="61" height="9" fill="#0b2d62"/><rect x="0" y="9" width="61" height="9" fill="#6ea6f0"/><rect x="0" y="18" width="61" height="9" fill="#b7d5fa"/><rect x="0" y="27" width="61" height="9" fill="#6ea6f0"/><rect x="0" y="36" width="61" height="10" fill="#b7d5fa"/><path d="M0 9.5H61" stroke="#fff" stroke-width="1.1"/><path d="M0 18.5H61" stroke="#fff" stroke-width="1.1"/><path d="M0 27.5H61" stroke="#fff" stroke-width="1.1"/><path d="M0 36.5H61" stroke="#fff" stroke-width="1.1"/><path d="M12.5 0V46" stroke="#fff" stroke-width="1.1"/><path d="M24.5 0V46" stroke="#fff" stroke-width="1.1"/><path d="M36.5 0V46" stroke="#fff" stroke-width="1.1"/><path d="M48.5 0V46" stroke="#fff" stroke-width="1.1"/><path d="M3 4.5H58" stroke="#fff" stroke-width="1.15" stroke-dasharray="7 5"/><path d="M3 13.5H58" stroke="#000" stroke-width="1.15" stroke-dasharray="7 5"/><path d="M3 22.5H58" stroke="#000" stroke-width="1.15" stroke-dasharray="7 5"/><path d="M3 31.5H58" stroke="#000" stroke-width="1.15" stroke-dasharray="7 5"/><path d="M3 40.5H58" stroke="#000" stroke-width="1.15" stroke-dasharray="7 5"/></g></g><g transform="translate(144 235)"><g shape-rendering="auto"><rect x="0" y="0" width="61" height="9" fill="#a3107c"/><rect x="0" y="9" width="61" height="9" fill="#f490d6"/><rect x="0" y="18" width="61" height="9" fill="#fbc5ea"/><rect x="0" y="27" width="61" height="9" fill="#f490d6"/><rect x="0" y="36" width="61" height="10" fill="#fbc5ea"/><path d="M0 9.5H61" stroke="#fff" stroke-width="1.1"/><path d="M0 18.5H61" stroke="#fff" stroke-width="1.1"/><path d="M0 27.5H61" stroke="#fff" stroke-width="1.1"/><path d="M0 36.5H61" stroke="#fff" stroke-width="1.1"/><path d="M12.5 0V46" stroke="#fff" stroke-width="1.1"/><path d="M24.5 0V46" stroke="#fff" stroke-width="1.1"/><path d="M36.5 0V46" stroke="#fff" stroke-width="1.1"/><path d="M48.5 0V46" stroke="#fff" stroke-width="1.1"/><path d="M3 4.5H58" stroke="#fff" stroke-width="1.15" stroke-dasharray="7 5"/><path d="M3 13.5H58" stroke="#000" stroke-width="1.15" stroke-dasharray="7 5"/><path d="M3 22.5H58" stroke="#000" stroke-width="1.15" stroke-dasharray="7 5"/><path d="M3 31.5H58" stroke="#000" stroke-width="1.15" stroke-dasharray="7 5"/><path d="M3 40.5H58" stroke="#000" stroke-width="1.15" stroke-dasharray="7 5"/></g></g><g transform="translate(213 235)"><g shape-rendering="auto"><rect x="0" y="0" width="61" height="9" fill="#168f77"/><rect x="0" y="9" width="61" height="9" fill="#8cefda"/><rect x="0" y="18" width="61" height="9" fill="#c5f7ec"/><rect x="0" y="27" width="61" height="9" fill="#8cefda"/><rect x="0" y="36" width="61" height="10" fill="#c5f7ec"/><path d="M0 9.5H61" stroke="#fff" stroke-width="1.1"/><path d="M0 18.5H61" stroke="#fff" stroke-width="1.1"/><path d="M0 27.5H61" stroke="#fff" stroke-width="1.1"/><path d="M0 36.5H61" stroke="#fff" stroke-width="1.1"/><path d="M12.5 0V46" stroke="#fff" stroke-width="1.1"/><path d="M24.5 0V46" stroke="#fff" stroke-width="1.1"/><path d="M36.5 0V46" stroke="#fff" stroke-width="1.1"/><path d="M48.5 0V46" stroke="#fff" stroke-width="1.1"/><path d="M3 4.5H58" stroke="#fff" stroke-width="1.15" stroke-dasharray="7 5"/><path d="M3 13.5H58" stroke="#000" stroke-width="1.15" stroke-dasharray="7 5"/><path d="M3 22.5H58" stroke="#000" stroke-width="1.15" stroke-dasharray="7 5"/><path d="M3 31.5H58" stroke="#000" stroke-width="1.15" stroke-dasharray="7 5"/><path d="M3 40.5H58" stroke="#000" stroke-width="1.15" stroke-dasharray="7 5"/></g></g><g transform="translate(282 235)"><g shape-rendering="auto"><rect x="0" y="0" width="61" height="9" fill="#6a9e1f"/><rect x="0" y="9" width="61" height="9" fill="#c4e99a"/><rect x="0" y="18" width="61" height="9" fill="#e1f4c9"/><rect x="0" y="27" width="61" height="9" fill="#c4e99a"/><rect x="0" y="36" width="61" height="10" fill="#e1f4c9"/><path d="M0 9.5H61" stroke="#fff" stroke-width="1.1"/><path d="M0 18.5H61" stroke="#fff" stroke-width="1.1"/><path d="M0 27.5H61" stroke="#fff" stroke-width="1.1"/><path d="M0 36.5H61" stroke="#fff" stroke-width="1.1"/><path d="M12.5 0V46" stroke="#fff" stroke-width="1.1"/><path d="M24.5 0V46" stroke="#fff" stroke-width="1.1"/><path d="M36.5 0V46" stroke="#fff" stroke-width="1.1"/><path d="M48.5 0V46" stroke="#fff" stroke-width="1.1"/><path d="M3 4.5H58" stroke="#fff" stroke-width="1.15" stroke-dasharray="7 5"/><path d="M3 13.5H58" stroke="#000" stroke-width="1.15" stroke-dasharray="7 5"/><path d="M3 22.5H58" stroke="#000" stroke-width="1.15" stroke-dasharray="7 5"/><path d="M3 31.5H58" stroke="#000" stroke-width="1.15" stroke-dasharray="7 5"/><path d="M3 40.5H58" stroke="#000" stroke-width="1.15" stroke-dasharray="7 5"/></g></g><g transform="translate(351 235)"><g shape-rendering="auto"><rect x="0" y="0" width="61" height="9" fill="#e87d37"/><rect x="0" y="9" width="61" height="9" fill="#f7cbb0"/><rect x="0" y="18" width="61" height="9" fill="#fbe4d5"/><rect x="0" y="27" width="61" height="9" fill="#f7cbb0"/><rect x="0" y="36" width="61" height="10" fill="#fbe4d5"/><path d="M0 9.5H61" stroke="#fff" stroke-width="1.1"/><path d="M0 18.5H61" stroke="#fff" stroke-width="1.1"/><path d="M0 27.5H61" stroke="#fff" stroke-width="1.1"/><path d="M0 36.5H61" stroke="#fff" stroke-width="1.1"/><path d="M12.5 0V46" stroke="#fff" stroke-width="1.1"/><path d="M24.5 0V46" stroke="#fff" stroke-width="1.1"/><path d="M36.5 0V46" stroke="#fff" stroke-width="1.1"/><path d="M48.5 0V46" stroke="#fff" stroke-width="1.1"/><path d="M3 4.5H58" stroke="#fff" stroke-width="1.15" stroke-dasharray="7 5"/><path d="M3 13.5H58" stroke="#000" stroke-width="1.15" stroke-dasharray="7 5"/><path d="M3 22.5H58" stroke="#000" stroke-width="1.15" stroke-dasharray="7 5"/><path d="M3 31.5H58" stroke="#000" stroke-width="1.15" stroke-dasharray="7 5"/><path d="M3 40.5H58" stroke="#000" stroke-width="1.15" stroke-dasharray="7 5"/></g></g><g transform="translate(420 235)"><g shape-rendering="auto"><rect x="0" y="0" width="61" height="9" fill="#c61c22"/><rect x="0" y="9" width="61" height="9" fill="#f0a5a7"/><rect x="0" y="18" width="61" height="9" fill="#f8d2d3"/><rect x="0" y="27" width="61" height="9" fill="#f0a5a7"/><rect x="0" y="36" width="61" height="10" fill="#f8d2d3"/><path d="M0 9.5H61" stroke="#fff" stroke-width="1.1"/><path d="M0 18.5H61" stroke="#fff" stroke-width="1.1"/><path d="M0 27.5H61" stroke="#fff" stroke-width="1.1"/><path d="M0 36.5H61" stroke="#fff" stroke-width="1.1"/><path d="M12.5 0V46" stroke="#fff" stroke-width="1.1"/><path d="M24.5 0V46" stroke="#fff" stroke-width="1.1"/><path d="M36.5 0V46" stroke="#fff" stroke-width="1.1"/><path d="M48.5 0V46" stroke="#fff" stroke-width="1.1"/><path d="M3 4.5H58" stroke="#fff" stroke-width="1.15" stroke-dasharray="7 5"/><path d="M3 13.5H58" stroke="#000" stroke-width="1.15" stroke-dasharray="7 5"/><path d="M3 22.5H58" stroke="#000" stroke-width="1.15" stroke-dasharray="7 5"/><path d="M3 31.5H58" stroke="#000" stroke-width="1.15" stroke-dasharray="7 5"/><path d="M3 40.5H58" stroke="#000" stroke-width="1.15" stroke-dasharray="7 5"/></g></g><g transform="translate(6 289)"><g shape-rendering="auto"><rect x="0" y="0" width="61" height="46" fill="#fff"/><rect x="0" y="0" width="61" height="9" fill="#000"/><rect x="0" y="9" width="61" height="9" fill="#d9d9d9"/><rect x="0" y="27" width="61" height="9" fill="#d9d9d9"/><path d="M0 9.5H61" stroke="#000" stroke-width="1"/><path d="M0 18.5H61" stroke="#000" stroke-width="1"/><path d="M0 27.5H61" stroke="#000" stroke-width="1"/><path d="M0 36.5H61" stroke="#000" stroke-width="1"/><path d="M12.5 9V46" stroke="#000" stroke-width="1"/><path d="M24.5 9V46" stroke="#000" stroke-width="1"/><path d="M36.5 9V46" stroke="#000" stroke-width="1"/><path d="M48.5 9V46" stroke="#000" stroke-width="1"/><rect x="0.5" y="0.5" width="60" height="45" fill="none" stroke="#000" stroke-width="1.2"/><path d="M3 4.5H58" stroke="#fff" stroke-width="1.15" stroke-dasharray="7 5"/><path d="M3 13.5H58" stroke="#000" stroke-width="1.15" stroke-dasharray="7 5"/><path d="M3 22.5H58" stroke="#000" stroke-width="1.15" stroke-dasharray="7 5"/><path d="M3 31.5H58" stroke="#000" stroke-width="1.15" stroke-dasharray="7 5"/><path d="M3 40.5H58" stroke="#000" stroke-width="1.15" stroke-dasharray="7 5"/></g></g><g transform="translate(75 289)"><g shape-rendering="auto"><rect x="0" y="0" width="61" height="9" fill="#0b2d62"/><rect x="0" y="9" width="61" height="9" fill="#d9d9d9"/><rect x="0" y="27" width="61" height="9" fill="#d9d9d9"/><path d="M0 0.5H61" stroke="#000" stroke-width="1"/><path d="M0 9.5H61" stroke="#000" stroke-width="1"/><path d="M0 45.5H61" stroke="#000" stroke-width="1.2"/><path d="M3 4.5H58" stroke="#fff" stroke-width="1.15" stroke-dasharray="7 5"/><path d="M3 13.5H58" stroke="#000" stroke-width="1.15" stroke-dasharray="7 5"/><path d="M3 22.5H58" stroke="#000" stroke-width="1.15" stroke-dasharray="7 5"/><path d="M3 31.5H58" stroke="#000" stroke-width="1.15" stroke-dasharray="7 5"/><path d="M3 40.5H58" stroke="#000" stroke-width="1.15" stroke-dasharray="7 5"/></g></g><g transform="translate(144 289)"><g shape-rendering="auto"><rect x="0" y="0" width="61" height="9" fill="#a3107c"/><rect x="0" y="9" width="61" height="9" fill="#d9d9d9"/><rect x="0" y="27" width="61" height="9" fill="#d9d9d9"/><path d="M0 0.5H61" stroke="#000" stroke-width="1"/><path d="M0 9.5H61" stroke="#000" stroke-width="1"/><path d="M0 45.5H61" stroke="#000" stroke-width="1.2"/><path d="M3 4.5H58" stroke="#fff" stroke-width="1.15" stroke-dasharray="7 5"/><path d="M3 13.5H58" stroke="#000" stroke-width="1.15" stroke-dasharray="7 5"/><path d="M3 22.5H58" stroke="#000" stroke-width="1.15" stroke-dasharray="7 5"/><path d="M3 31.5H58" stroke="#000" stroke-width="1.15" stroke-dasharray="7 5"/><path d="M3 40.5H58" stroke="#000" stroke-width="1.15" stroke-dasharray="7 5"/></g></g><g transform="translate(213 289)"><g shape-rendering="auto"><rect x="0" y="0" width="61" height="9" fill="#168f77"/><rect x="0" y="9" width="61" height="9" fill="#d9d9d9"/><rect x="0" y="27" width="61" height="9" fill="#d9d9d9"/><path d="M0 0.5H61" stroke="#000" stroke-width="1"/><path d="M0 9.5H61" stroke="#000" stroke-width="1"/><path d="M0 45.5H61" stroke="#000" stroke-width="1.2"/><path d="M3 4.5H58" stroke="#fff" stroke-width="1.15" stroke-dasharray="7 5"/><path d="M3 13.5H58" stroke="#000" stroke-width="1.15" stroke-dasharray="7 5"/><path d="M3 22.5H58" stroke="#000" stroke-width="1.15" stroke-dasharray="7 5"/><path d="M3 31.5H58" stroke="#000" stroke-width="1.15" stroke-dasharray="7 5"/><path d="M3 40.5H58" stroke="#000" stroke-width="1.15" stroke-dasharray="7 5"/></g></g><g transform="translate(282 289)"><g shape-rendering="auto"><rect x="0" y="0" width="61" height="9" fill="#6a9e1f"/><rect x="0" y="9" width="61" height="9" fill="#d9d9d9"/><rect x="0" y="27" width="61" height="9" fill="#d9d9d9"/><path d="M0 0.5H61" stroke="#000" stroke-width="1"/><path d="M0 9.5H61" stroke="#000" stroke-width="1"/><path d="M0 45.5H61" stroke="#000" stroke-width="1.2"/><path d="M3 4.5H58" stroke="#fff" stroke-width="1.15" stroke-dasharray="7 5"/><path d="M3 13.5H58" stroke="#000" stroke-width="1.15" stroke-dasharray="7 5"/><path d="M3 22.5H58" stroke="#000" stroke-width="1.15" stroke-dasharray="7 5"/><path d="M3 31.5H58" stroke="#000" stroke-width="1.15" stroke-dasharray="7 5"/><path d="M3 40.5H58" stroke="#000" stroke-width="1.15" stroke-dasharray="7 5"/></g></g><g transform="translate(351 289)"><g shape-rendering="auto"><rect x="0" y="0" width="61" height="9" fill="#e87d37"/><rect x="0" y="9" width="61" height="9" fill="#d9d9d9"/><rect x="0" y="27" width="61" height="9" fill="#d9d9d9"/><path d="M0 0.5H61" stroke="#000" stroke-width="1"/><path d="M0 9.5H61" stroke="#000" stroke-width="1"/><path d="M0 45.5H61" stroke="#000" stroke-width="1.2"/><path d="M3 4.5H58" stroke="#fff" stroke-width="1.15" stroke-dasharray="7 5"/><path d="M3 13.5H58" stroke="#000" stroke-width="1.15" stroke-dasharray="7 5"/><path d="M3 22.5H58" stroke="#000" stroke-width="1.15" stroke-dasharray="7 5"/><path d="M3 31.5H58" stroke="#000" stroke-width="1.15" stroke-dasharray="7 5"/><path d="M3 40.5H58" stroke="#000" stroke-width="1.15" stroke-dasharray="7 5"/></g></g><g transform="translate(420 289)"><g shape-rendering="auto"><rect x="0" y="0" width="61" height="9" fill="#c61c22"/><rect x="0" y="9" width="61" height="9" fill="#d9d9d9"/><rect x="0" y="27" width="61" height="9" fill="#d9d9d9"/><path d="M0 0.5H61" stroke="#000" stroke-width="1"/><path d="M0 9.5H61" stroke="#000" stroke-width="1"/><path d="M0 45.5H61" stroke="#000" stroke-width="1.2"/><path d="M3 4.5H58" stroke="#fff" stroke-width="1.15" stroke-dasharray="7 5"/><path d="M3 13.5H58" stroke="#000" stroke-width="1.15" stroke-dasharray="7 5"/><path d="M3 22.5H58" stroke="#000" stroke-width="1.15" stroke-dasharray="7 5"/><path d="M3 31.5H58" stroke="#000" stroke-width="1.15" stroke-dasharray="7 5"/><path d="M3 40.5H58" stroke="#000" stroke-width="1.15" stroke-dasharray="7 5"/></g></g><g transform="translate(6 343)"><g shape-rendering="auto"><rect x="0" y="0" width="61" height="9" fill="#d9d9d9"/><rect x="0" y="9" width="61" height="9" fill="#a6a6a6"/><rect x="0" y="18" width="61" height="9" fill="#d9d9d9"/><rect x="0" y="27" width="61" height="9" fill="#a6a6a6"/><rect x="0" y="36" width="61" height="10" fill="#d9d9d9"/><path d="M0 9.5H61" stroke="#000000" stroke-width="1"/><path d="M0 18.5H61" stroke="#000000" stroke-width="1"/><path d="M0 27.5H61" stroke="#000000" stroke-width="1"/><path d="M0 36.5H61" stroke="#000000" stroke-width="1"/><path d="M12.5 0V46" stroke="#000000" stroke-width="1"/><path d="M24.5 0V46" stroke="#000000" stroke-width="1"/><path d="M36.5 0V46" stroke="#000000" stroke-width="1"/><path d="M48.5 0V46" stroke="#000000" stroke-width="1"/><rect x="0.5" y="0.5" width="60" height="45" fill="none" stroke="#000000" stroke-width="1.2"/><path d="M3 4.5H58" stroke="#000" stroke-width="1.15" stroke-dasharray="7 5"/><path d="M3 13.5H58" stroke="#000" stroke-width="1.15" stroke-dasharray="7 5"/><path d="M3 22.5H58" stroke="#000" stroke-width="1.15" stroke-dasharray="7 5"/><path d="M3 31.5H58" stroke="#000" stroke-width="1.15" stroke-dasharray="7 5"/><path d="M3 40.5H58" stroke="#000" stroke-width="1.15" stroke-dasharray="7 5"/></g></g><g transform="translate(75 343)"><g shape-rendering="auto"><rect x="0" y="0" width="61" height="9" fill="#b7d5fa"/><rect x="0" y="9" width="61" height="9" fill="#6ea6f0"/><rect x="0" y="18" width="61" height="9" fill="#b7d5fa"/><rect x="0" y="27" width="61" height="9" fill="#6ea6f0"/><rect x="0" y="36" width="61" height="10" fill="#b7d5fa"/><path d="M0 9.5H61" stroke="#2b7de9" stroke-width="1"/><path d="M0 18.5H61" stroke="#2b7de9" stroke-width="1"/><path d="M0 27.5H61" stroke="#2b7de9" stroke-width="1"/><path d="M0 36.5H61" stroke="#2b7de9" stroke-width="1"/><path d="M12.5 0V46" stroke="#2b7de9" stroke-width="1"/><path d="M24.5 0V46" stroke="#2b7de9" stroke-width="1"/><path d="M36.5 0V46" stroke="#2b7de9" stroke-width="1"/><path d="M48.5 0V46" stroke="#2b7de9" stroke-width="1"/><rect x="0.5" y="0.5" width="60" height="45" fill="none" stroke="#2b7de9" stroke-width="1.2"/><path d="M3 4.5H58" stroke="#000" stroke-width="1.15" stroke-dasharray="7 5"/><path d="M3 13.5H58" stroke="#000" stroke-width="1.15" stroke-dasharray="7 5"/><path d="M3 22.5H58" stroke="#000" stroke-width="1.15" stroke-dasharray="7 5"/><path d="M3 31.5H58" stroke="#000" stroke-width="1.15" stroke-dasharray="7 5"/><path d="M3 40.5H58" stroke="#000" stroke-width="1.15" stroke-dasharray="7 5"/></g></g><g transform="translate(144 343)"><g shape-rendering="auto"><rect x="0" y="0" width="61" height="9" fill="#fbc5ea"/><rect x="0" y="9" width="61" height="9" fill="#f490d6"/><rect x="0" y="18" width="61" height="9" fill="#fbc5ea"/><rect x="0" y="27" width="61" height="9" fill="#f490d6"/><rect x="0" y="36" width="61" height="10" fill="#fbc5ea"/><path d="M0 9.5H61" stroke="#ec44c0" stroke-width="1"/><path d="M0 18.5H61" stroke="#ec44c0" stroke-width="1"/><path d="M0 27.5H61" stroke="#ec44c0" stroke-width="1"/><path d="M0 36.5H61" stroke="#ec44c0" stroke-width="1"/><path d="M12.5 0V46" stroke="#ec44c0" stroke-width="1"/><path d="M24.5 0V46" stroke="#ec44c0" stroke-width="1"/><path d="M36.5 0V46" stroke="#ec44c0" stroke-width="1"/><path d="M48.5 0V46" stroke="#ec44c0" stroke-width="1"/><rect x="0.5" y="0.5" width="60" height="45" fill="none" stroke="#ec44c0" stroke-width="1.2"/><path d="M3 4.5H58" stroke="#000" stroke-width="1.15" stroke-dasharray="7 5"/><path d="M3 13.5H58" stroke="#000" stroke-width="1.15" stroke-dasharray="7 5"/><path d="M3 22.5H58" stroke="#000" stroke-width="1.15" stroke-dasharray="7 5"/><path d="M3 31.5H58" stroke="#000" stroke-width="1.15" stroke-dasharray="7 5"/><path d="M3 40.5H58" stroke="#000" stroke-width="1.15" stroke-dasharray="7 5"/></g></g><g transform="translate(213 343)"><g shape-rendering="auto"><rect x="0" y="0" width="61" height="9" fill="#c5f7ec"/><rect x="0" y="9" width="61" height="9" fill="#8cefda"/><rect x="0" y="18" width="61" height="9" fill="#c5f7ec"/><rect x="0" y="27" width="61" height="9" fill="#8cefda"/><rect x="0" y="36" width="61" height="10" fill="#c5f7ec"/><path d="M0 9.5H61" stroke="#3fe0c1" stroke-width="1"/><path d="M0 18.5H61" stroke="#3fe0c1" stroke-width="1"/><path d="M0 27.5H61" stroke="#3fe0c1" stroke-width="1"/><path d="M0 36.5H61" stroke="#3fe0c1" stroke-width="1"/><path d="M12.5 0V46" stroke="#3fe0c1" stroke-width="1"/><path d="M24.5 0V46" stroke="#3fe0c1" stroke-width="1"/><path d="M36.5 0V46" stroke="#3fe0c1" stroke-width="1"/><path d="M48.5 0V46" stroke="#3fe0c1" stroke-width="1"/><rect x="0.5" y="0.5" width="60" height="45" fill="none" stroke="#3fe0c1" stroke-width="1.2"/><path d="M3 4.5H58" stroke="#000" stroke-width="1.15" stroke-dasharray="7 5"/><path d="M3 13.5H58" stroke="#000" stroke-width="1.15" stroke-dasharray="7 5"/><path d="M3 22.5H58" stroke="#000" stroke-width="1.15" stroke-dasharray="7 5"/><path d="M3 31.5H58" stroke="#000" stroke-width="1.15" stroke-dasharray="7 5"/><path d="M3 40.5H58" stroke="#000" stroke-width="1.15" stroke-dasharray="7 5"/></g></g><g transform="translate(282 343)"><g shape-rendering="auto"><rect x="0" y="0" width="61" height="9" fill="#e1f4c9"/><rect x="0" y="9" width="61" height="9" fill="#c4e99a"/><rect x="0" y="18" width="61" height="9" fill="#e1f4c9"/><rect x="0" y="27" width="61" height="9" fill="#c4e99a"/><rect x="0" y="36" width="61" height="10" fill="#e1f4c9"/><path d="M0 9.5H61" stroke="#a0d959" stroke-width="1"/><path d="M0 18.5H61" stroke="#a0d959" stroke-width="1"/><path d="M0 27.5H61" stroke="#a0d959" stroke-width="1"/><path d="M0 36.5H61" stroke="#a0d959" stroke-width="1"/><path d="M12.5 0V46" stroke="#a0d959" stroke-width="1"/><path d="M24.5 0V46" stroke="#a0d959" stroke-width="1"/><path d="M36.5 0V46" stroke="#a0d959" stroke-width="1"/><path d="M48.5 0V46" stroke="#a0d959" stroke-width="1"/><rect x="0.5" y="0.5" width="60" height="45" fill="none" stroke="#a0d959" stroke-width="1.2"/><path d="M3 4.5H58" stroke="#000" stroke-width="1.15" stroke-dasharray="7 5"/><path d="M3 13.5H58" stroke="#000" stroke-width="1.15" stroke-dasharray="7 5"/><path d="M3 22.5H58" stroke="#000" stroke-width="1.15" stroke-dasharray="7 5"/><path d="M3 31.5H58" stroke="#000" stroke-width="1.15" stroke-dasharray="7 5"/><path d="M3 40.5H58" stroke="#000" stroke-width="1.15" stroke-dasharray="7 5"/></g></g><g transform="translate(351 343)"><g shape-rendering="auto"><rect x="0" y="0" width="61" height="9" fill="#fbe4d5"/><rect x="0" y="9" width="61" height="9" fill="#f7cbb0"/><rect x="0" y="18" width="61" height="9" fill="#fbe4d5"/><rect x="0" y="27" width="61" height="9" fill="#f7cbb0"/><rect x="0" y="36" width="61" height="10" fill="#fbe4d5"/><path d="M0 9.5H61" stroke="#f2a77c" stroke-width="1"/><path d="M0 18.5H61" stroke="#f2a77c" stroke-width="1"/><path d="M0 27.5H61" stroke="#f2a77c" stroke-width="1"/><path d="M0 36.5H61" stroke="#f2a77c" stroke-width="1"/><path d="M12.5 0V46" stroke="#f2a77c" stroke-width="1"/><path d="M24.5 0V46" stroke="#f2a77c" stroke-width="1"/><path d="M36.5 0V46" stroke="#f2a77c" stroke-width="1"/><path d="M48.5 0V46" stroke="#f2a77c" stroke-width="1"/><rect x="0.5" y="0.5" width="60" height="45" fill="none" stroke="#f2a77c" stroke-width="1.2"/><path d="M3 4.5H58" stroke="#000" stroke-width="1.15" stroke-dasharray="7 5"/><path d="M3 13.5H58" stroke="#000" stroke-width="1.15" stroke-dasharray="7 5"/><path d="M3 22.5H58" stroke="#000" stroke-width="1.15" stroke-dasharray="7 5"/><path d="M3 31.5H58" stroke="#000" stroke-width="1.15" stroke-dasharray="7 5"/><path d="M3 40.5H58" stroke="#000" stroke-width="1.15" stroke-dasharray="7 5"/></g></g><g transform="translate(420 343)"><g shape-rendering="auto"><rect x="0" y="0" width="61" height="9" fill="#f8d2d3"/><rect x="0" y="9" width="61" height="9" fill="#f0a5a7"/><rect x="0" y="18" width="61" height="9" fill="#f8d2d3"/><rect x="0" y="27" width="61" height="9" fill="#f0a5a7"/><rect x="0" y="36" width="61" height="10" fill="#f8d2d3"/><path d="M0 9.5H61" stroke="#e8656b" stroke-width="1"/><path d="M0 18.5H61" stroke="#e8656b" stroke-width="1"/><path d="M0 27.5H61" stroke="#e8656b" stroke-width="1"/><path d="M0 36.5H61" stroke="#e8656b" stroke-width="1"/><path d="M12.5 0V46" stroke="#e8656b" stroke-width="1"/><path d="M24.5 0V46" stroke="#e8656b" stroke-width="1"/><path d="M36.5 0V46" stroke="#e8656b" stroke-width="1"/><path d="M48.5 0V46" stroke="#e8656b" stroke-width="1"/><rect x="0.5" y="0.5" width="60" height="45" fill="none" stroke="#e8656b" stroke-width="1.2"/><path d="M3 4.5H58" stroke="#000" stroke-width="1.15" stroke-dasharray="7 5"/><path d="M3 13.5H58" stroke="#000" stroke-width="1.15" stroke-dasharray="7 5"/><path d="M3 22.5H58" stroke="#000" stroke-width="1.15" stroke-dasharray="7 5"/><path d="M3 31.5H58" stroke="#000" stroke-width="1.15" stroke-dasharray="7 5"/><path d="M3 40.5H58" stroke="#000" stroke-width="1.15" stroke-dasharray="7 5"/></g></g><g transform="translate(6 436)"><g shape-rendering="auto"><rect x="0" y="0" width="61" height="9" fill="#000"/><rect x="0" y="9" width="61" height="9" fill="#404040"/><rect x="0" y="18" width="61" height="9" fill="#737373"/><rect x="0" y="27" width="61" height="9" fill="#404040"/><rect x="0" y="36" width="61" height="10" fill="#737373"/><path d="M0 9.5H61" stroke="#fff" stroke-width="1.1"/><path d="M3 4.5H58" stroke="#fff" stroke-width="1.15" stroke-dasharray="7 5"/><path d="M3 13.5H58" stroke="#fff" stroke-width="1.15" stroke-dasharray="7 5"/><path d="M3 22.5H58" stroke="#fff" stroke-width="1.15" stroke-dasharray="7 5"/><path d="M3 31.5H58" stroke="#fff" stroke-width="1.15" stroke-dasharray="7 5"/><path d="M3 40.5H58" stroke="#fff" stroke-width="1.15" stroke-dasharray="7 5"/></g></g><g transform="translate(75 436)"><g shape-rendering="auto"><rect x="0" y="0" width="61" height="9" fill="#000"/><rect x="0" y="9" width="61" height="9" fill="#07224b"/><rect x="0" y="18" width="61" height="9" fill="#0c2f64"/><rect x="0" y="27" width="61" height="9" fill="#07224b"/><rect x="0" y="36" width="61" height="10" fill="#0c2f64"/><path d="M0 9.5H61" stroke="#fff" stroke-width="1.1"/><path d="M3 4.5H58" stroke="#fff" stroke-width="1.15" stroke-dasharray="7 5"/><path d="M3 13.5H58" stroke="#fff" stroke-width="1.15" stroke-dasharray="7 5"/><path d="M3 22.5H58" stroke="#fff" stroke-width="1.15" stroke-dasharray="7 5"/><path d="M3 31.5H58" stroke="#fff" stroke-width="1.15" stroke-dasharray="7 5"/><path d="M3 40.5H58" stroke="#fff" stroke-width="1.15" stroke-dasharray="7 5"/></g></g><g transform="translate(144 436)"><g shape-rendering="auto"><rect x="0" y="0" width="61" height="9" fill="#000"/><rect x="0" y="9" width="61" height="9" fill="#7a0c5d"/><rect x="0" y="18" width="61" height="9" fill="#a3107c"/><rect x="0" y="27" width="61" height="9" fill="#7a0c5d"/><rect x="0" y="36" width="61" height="10" fill="#a3107c"/><path d="M0 9.5H61" stroke="#fff" stroke-width="1.1"/><path d="M3 4.5H58" stroke="#fff" stroke-width="1.15" stroke-dasharray="7 5"/><path d="M3 13.5H58" stroke="#fff" stroke-width="1.15" stroke-dasharray="7 5"/><path d="M3 22.5H58" stroke="#fff" stroke-width="1.15" stroke-dasharray="7 5"/><path d="M3 31.5H58" stroke="#fff" stroke-width="1.15" stroke-dasharray="7 5"/><path d="M3 40.5H58" stroke="#fff" stroke-width="1.15" stroke-dasharray="7 5"/></g></g><g transform="translate(213 436)"><g shape-rendering="auto"><rect x="0" y="0" width="61" height="9" fill="#000"/><rect x="0" y="9" width="61" height="9" fill="#126b59"/><rect x="0" y="18" width="61" height="9" fill="#168f77"/><rect x="0" y="27" width="61" height="9" fill="#126b59"/><rect x="0" y="36" width="61" height="10" fill="#168f77"/><path d="M0 9.5H61" stroke="#fff" stroke-width="1.1"/><path d="M3 4.5H58" stroke="#fff" stroke-width="1.15" stroke-dasharray="7 5"/><path d="M3 13.5H58" stroke="#fff" stroke-width="1.15" stroke-dasharray="7 5"/><path d="M3 22.5H58" stroke="#fff" stroke-width="1.15" stroke-dasharray="7 5"/><path d="M3 31.5H58" stroke="#fff" stroke-width="1.15" stroke-dasharray="7 5"/><path d="M3 40.5H58" stroke="#fff" stroke-width="1.15" stroke-dasharray="7 5"/></g></g><g transform="translate(282 436)"><g shape-rendering="auto"><rect x="0" y="0" width="61" height="9" fill="#000"/><rect x="0" y="9" width="61" height="9" fill="#4f7617"/><rect x="0" y="18" width="61" height="9" fill="#6a9e1f"/><rect x="0" y="27" width="61" height="9" fill="#4f7617"/><rect x="0" y="36" width="61" height="10" fill="#6a9e1f"/><path d="M0 9.5H61" stroke="#fff" stroke-width="1.1"/><path d="M3 4.5H58" stroke="#fff" stroke-width="1.15" stroke-dasharray="7 5"/><path d="M3 13.5H58" stroke="#fff" stroke-width="1.15" stroke-dasharray="7 5"/><path d="M3 22.5H58" stroke="#fff" stroke-width="1.15" stroke-dasharray="7 5"/><path d="M3 31.5H58" stroke="#fff" stroke-width="1.15" stroke-dasharray="7 5"/><path d="M3 40.5H58" stroke="#fff" stroke-width="1.15" stroke-dasharray="7 5"/></g></g><g transform="translate(351 436)"><g shape-rendering="auto"><rect x="0" y="0" width="61" height="9" fill="#000"/><rect x="0" y="9" width="61" height="9" fill="#c25a17"/><rect x="0" y="18" width="61" height="9" fill="#e87d37"/><rect x="0" y="27" width="61" height="9" fill="#c25a17"/><rect x="0" y="36" width="61" height="10" fill="#e87d37"/><path d="M0 9.5H61" stroke="#fff" stroke-width="1.1"/><path d="M3 4.5H58" stroke="#fff" stroke-width="1.15" stroke-dasharray="7 5"/><path d="M3 13.5H58" stroke="#fff" stroke-width="1.15" stroke-dasharray="7 5"/><path d="M3 22.5H58" stroke="#fff" stroke-width="1.15" stroke-dasharray="7 5"/><path d="M3 31.5H58" stroke="#fff" stroke-width="1.15" stroke-dasharray="7 5"/><path d="M3 40.5H58" stroke="#fff" stroke-width="1.15" stroke-dasharray="7 5"/></g></g><g transform="translate(420 436)"><g shape-rendering="auto"><rect x="0" y="0" width="61" height="9" fill="#000"/><rect x="0" y="9" width="61" height="9" fill="#94151a"/><rect x="0" y="18" width="61" height="9" fill="#c61c22"/><rect x="0" y="27" width="61" height="9" fill="#94151a"/><rect x="0" y="36" width="61" height="10" fill="#c61c22"/><path d="M0 9.5H61" stroke="#fff" stroke-width="1.1"/><path d="M3 4.5H58" stroke="#fff" stroke-width="1.15" stroke-dasharray="7 5"/><path d="M3 13.5H58" stroke="#fff" stroke-width="1.15" stroke-dasharray="7 5"/><path d="M3 22.5H58" stroke="#fff" stroke-width="1.15" stroke-dasharray="7 5"/><path d="M3 31.5H58" stroke="#fff" stroke-width="1.15" stroke-dasharray="7 5"/><path d="M3 40.5H58" stroke="#fff" stroke-width="1.15" stroke-dasharray="7 5"/></g></g><g transform="translate(6 490)"><rect x="0" y="0" width="61" height="9" fill="#000000"/><rect x="0" y="9" width="61" height="9" fill="#a6a6a6"/><rect x="0" y="18" width="61" height="9" fill="#d9d9d9"/><rect x="0" y="27" width="61" height="9" fill="#a6a6a6"/><rect x="0" y="36" width="61" height="10" fill="#d9d9d9"/><path d="M3 4.5H58" stroke="#fff" stroke-width="1.15" stroke-dasharray="7 5"/><path d="M3 13.5H58" stroke="#000" stroke-width="1.15" stroke-dasharray="7 5"/><path d="M3 22.5H58" stroke="#000" stroke-width="1.15" stroke-dasharray="7 5"/><path d="M3 31.5H58" stroke="#000" stroke-width="1.15" stroke-dasharray="7 5"/><path d="M3 40.5H58" stroke="#000" stroke-width="1.15" stroke-dasharray="7 5"/></g><g transform="translate(75 490)"><rect x="0" y="0" width="61" height="9" fill="#a3107c"/><rect x="0" y="9" width="61" height="9" fill="#6ea6f0"/><rect x="0" y="18" width="61" height="9" fill="#b7d5fa"/><rect x="0" y="27" width="61" height="9" fill="#6ea6f0"/><rect x="0" y="36" width="61" height="10" fill="#b7d5fa"/><path d="M3 4.5H58" stroke="#fff" stroke-width="1.15" stroke-dasharray="7 5"/><path d="M3 13.5H58" stroke="#000" stroke-width="1.15" stroke-dasharray="7 5"/><path d="M3 22.5H58" stroke="#000" stroke-width="1.15" stroke-dasharray="7 5"/><path d="M3 31.5H58" stroke="#000" stroke-width="1.15" stroke-dasharray="7 5"/><path d="M3 40.5H58" stroke="#000" stroke-width="1.15" stroke-dasharray="7 5"/></g><g transform="translate(144 490)"><rect x="0" y="0" width="61" height="9" fill="#6a9e1f"/><rect x="0" y="9" width="61" height="9" fill="#8cefda"/><rect x="0" y="18" width="61" height="9" fill="#c5f7ec"/><rect x="0" y="27" width="61" height="9" fill="#8cefda"/><rect x="0" y="36" width="61" height="10" fill="#c5f7ec"/><path d="M3 4.5H58" stroke="#fff" stroke-width="1.15" stroke-dasharray="7 5"/><path d="M3 13.5H58" stroke="#000" stroke-width="1.15" stroke-dasharray="7 5"/><path d="M3 22.5H58" stroke="#000" stroke-width="1.15" stroke-dasharray="7 5"/><path d="M3 31.5H58" stroke="#000" stroke-width="1.15" stroke-dasharray="7 5"/><path d="M3 40.5H58" stroke="#000" stroke-width="1.15" stroke-dasharray="7 5"/></g><g transform="translate(213 490)"><rect x="0" y="0" width="61" height="9" fill="#c61c22"/><rect x="0" y="9" width="61" height="9" fill="#f7cbb0"/><rect x="0" y="18" width="61" height="9" fill="#fbe4d5"/><rect x="0" y="27" width="61" height="9" fill="#f7cbb0"/><rect x="0" y="36" width="61" height="10" fill="#fbe4d5"/><path d="M3 4.5H58" stroke="#fff" stroke-width="1.15" stroke-dasharray="7 5"/><path d="M3 13.5H58" stroke="#000" stroke-width="1.15" stroke-dasharray="7 5"/><path d="M3 22.5H58" stroke="#000" stroke-width="1.15" stroke-dasharray="7 5"/><path d="M3 31.5H58" stroke="#000" stroke-width="1.15" stroke-dasharray="7 5"/><path d="M3 40.5H58" stroke="#000" stroke-width="1.15" stroke-dasharray="7 5"/></g></svg>

<div class="a" style="left:193px;top:181px;width:483px;height:1px;background:#e1e1e1"></div>
<div class="a" style="left:193px;top:435px;width:483px;height:1px;background:#e1e1e1"></div>
<div class="a" style="left:195px;top:583px;width:498px;height:1px;background:#e1e1e1"></div>
<div class="t" style="left:207.500px;top:190.500px;font-size:12px;font-weight:bold;color:#2b2b2b">Medium</div>
<div class="t" style="left:207.500px;top:445.500px;font-size:12px;font-weight:bold;color:#2b2b2b">Dark</div>

<!-- scrollbar -->
<div class="a" style="left:677px;top:38px;width:15px;height:542px;background:#e6e6e6"></div>
<div class="a" style="left:677px;top:38px;width:13px;height:13px;background:#fff;border:1px solid #6e6e6e"></div>
<svg class="a" style="left:677px;top:38px" width="15" height="15" viewBox="0 0 15 15"><path d="M4 9.200h7L7.500 5z" fill="#777"/></svg>
<div class="a" style="left:677px;top:191px;width:13px;height:373px;background:#fff;border:1px solid #6e6e6e"></div>
<div class="a" style="left:677px;top:565px;width:13px;height:13px;background:#fff;border:1px solid #6e6e6e"></div>
<svg class="a" style="left:677px;top:565px" width="15" height="15" viewBox="0 0 15 15"><path d="M4 5.800h7L7.500 10z" fill="#777"/></svg>

<!-- footer commands -->
<svg class="a" style="left:204px;top:589px" width="18" height="17" viewBox="204 589 18 17" fill="none">
 <path d="M212.200 591.500H220.500V595.500M215.500 591.500V595.500M205.500 595V604.500H210.500M205.500 600.200H210.500" stroke="#3b3b3b" stroke-width="1.100"/>
 <rect x="210.500" y="595.500" width="10" height="9" fill="#7ab8f0" stroke="#1b6ec2" stroke-width="1.200"/><path d="M215.500 595.500V604.500M210.500 600.200H220.500" stroke="#1b6ec2" stroke-width="1.100"/>
 <path d="M208.400 590V596.800M205 593.400H211.800" stroke="#2e9a47" stroke-width="1.300"/>
</svg>
<div class="t" style="left:230px;top:593.5px;font-size:11.5px;color:#333"><u>N</u>ew Table Style...</div>
<svg class="a" style="left:204px;top:618px" width="18" height="17" viewBox="204 618 18 17" fill="none">
 <path d="M205.500 619.500H220.500V624M205.500 619.500V632.500H211M205.500 623.500H220.500M205.500 628.500H212M210.500 619.500V632.500M215.500 619.500V624" stroke="#3b3b3b" stroke-width="1.100"/>
 <path d="M211 624h9.500v6h-9.500z" fill="#5ea6ea" stroke="#1b6ec2" stroke-width="1.100"/>
 <g transform="rotate(-40 216.500 628.300)"><rect x="210.500" y="625.300" width="12" height="6" fill="#fff"/><rect x="211.700" y="626.300" width="9.600" height="4" fill="#fff" stroke="#9b3fb5" stroke-width="1.300"/><path d="M214.700 626.300v4" stroke="#9b3fb5" stroke-width="1.100"/></g>
</svg>
<div class="t" style="left:230px;top:621.5px;font-size:11.5px;color:#333;letter-spacing:-.3px"><u>C</u>lear</div>

<!-- watermark -->
<svg class="a" style="left:275px;top:604px" width="31" height="32" viewBox="0 0 31 32"><path d="M15.500 .5L29.500 8V24L15.500 31.500 1.500 24V8z" fill="#e1e7f5"/><path d="M15.500 .5L29.500 8V24L22 20V12z" fill="#d3dbef"/><path d="M15.500 8.500l6.500 3.500v8l-6.500 3.500L9 20v-8z" fill="#fff"/><path d="M9 12l6.500 3.500v8L9 20z" fill="#c3cbdc"/><path d="M15.500 15.500L22 12v8l-6.500 3.500z" fill="#eef1f8"/><path d="M1.500 24L9 20l6.500 3.500L22 20l7.500 4-14 7.500z" fill="#d5def3"/></svg>
<div class="t" style="left:308px;top:604.5px;font-size:23px;font-weight:bold;color:#cbd6f5;letter-spacing:-.9px">exceldemy</div>
<div class="t" style="left:320px;top:626.5px;font-size:8px;font-weight:bold;color:#d9d9d9;letter-spacing:.9px">EXCEL - DATA - BI</div>
<svg class="a" style="left:432px;top:642px" width="20" height="4" viewBox="0 0 20 4"><path d="M1.500 2h2M6.600 2h2M11.700 2h2M16.800 2h2" stroke="#a3adbd" stroke-width="2"/></svg>

<!-- tooltip + marker + cursor -->
<div class="a" style="left:536px;top:432px;width:157px;height:23px;background:#fff;border:1px solid #d6d6d6;box-shadow:1px 2px 3px rgba(0,0,0,.18)"></div>
<div class="t" style="left:540.5px;top:439px;font-size:11.5px;color:#5d5d5d">Rose, Table Style Medium 28</div>
<div class="circ" style="left:510.5px;top:435px">3</div>
<svg class="a" style="left:651px;top:419px" width="16" height="22" viewBox="0 0 16 22"><path d="M1.500 1.500V17l3.700-3.500 2.600 6.200 2.500-1.100-2.600-6h5.200z" fill="#fff" stroke="#000" stroke-width="1.100" stroke-linejoin="miter"/></svg>

<div class="a" style="left:1px;top:320px;width:184px;height:24px;border:4px solid #ee3b3e;border-radius:5px"></div>
</body></html>
